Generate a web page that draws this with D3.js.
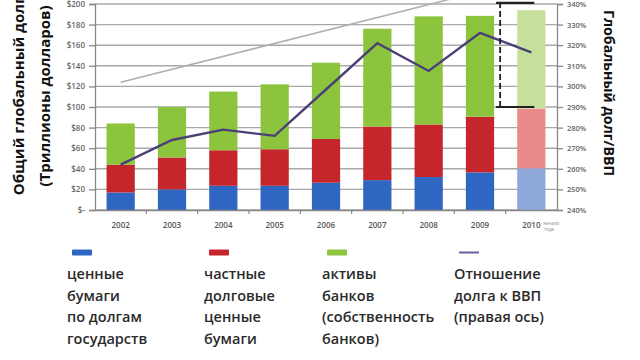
<!DOCTYPE html>
<html><head><meta charset="utf-8">
<script src="https://cdn.jsdelivr.net/npm/d3@7"></script>
<style>body{margin:0;background:#fff}svg{display:block}</style>
</head><body>
<svg id="c" width="640" height="360"></svg>
<script>
const years = ["2002","2003","2004","2005","2006","2007","2008","2009","2010"];
const govSecurities = [17, 20, 23.5, 23.5, 26.5, 29, 32, 36.5, 40.5];
const privateSecurities = [27, 31, 34.5, 35.5, 42.5, 52, 51, 54, 58];
const bankAssets = [40, 49, 57, 63, 74, 95, 105, 98, 95.5];
const debtToGdp = [262, 274, 279, 276, 298.5, 321, 307.5, 326, 316.5];
const trendYears = ["2002","2009"];
const trendValues = [302, 346];
const leftTicks = [0,20,40,60,80,100,120,140,160,180,200];
const leftTickLabels = ["$-","$20","$40","$60","$80","$100","$120","$140","$160","$180","$200"];
const rightTicks = [240,250,260,270,280,290,300,310,320,330,340];
const bracketRange = [100, 201];
const seriesNames = ["ценные бумаги по долгам государств","частные долговые ценные бумаги","активы банков (собственность банков)","Отношение долга к ВВП (правая ось)"];
const legendLines = [["ценные","бумаги","по долгам","государств"],["частные","долговые","ценные","бумаги"],["активы","банков","(собственность","банков)"],["Отношение","долга к ВВП","(правая ось)"]];

const svg = d3.select("#c");
const L = 95, R = 557, T = 4, B = 210;
const x = d3.scaleBand().domain(years).range([L, R]).paddingInner(0.45).paddingOuter(0.225);
const y = d3.scaleLinear().domain([0, 200]).range([B, T]);
const y2 = d3.scaleLinear().domain([240, 340]).range([B, T]);
const cx = d => x(d) + x.bandwidth()/2;

const colors = ["#2f66c2", "#c4262b", "#8cc43e"];
const light = ["#8ea8dc", "#e98a8c", "#c6e09c"];

// gridlines
svg.append("g").selectAll("line").data(leftTicks).join("line")
  .attr("x1", L).attr("x2", R).attr("y1", d => y(d)).attr("y2", d => y(d))
  .attr("stroke", "#a8a8a8").attr("stroke-width", 1.4);

// stacked bars
const rows = years.map((yr, i) => ({year: yr, g: govSecurities[i], p: privateSecurities[i], b: bankAssets[i]}));
const stack = d3.stack().keys(["g","p","b"])(rows);
stack.forEach((layer, k) => {
  svg.append("g").selectAll("rect").data(layer).join("rect")
    .attr("x", d => x(d.data.year)).attr("width", x.bandwidth())
    .attr("y", d => y(d[1])).attr("height", d => y(d[0]) - y(d[1]))
    .attr("fill", d => d.data.year === "2010" ? light[k] : colors[k]);
});

// axes
const la = svg.append("g").attr("transform", `translate(${L},0)`)
  .call(d3.axisLeft(y).tickValues(leftTicks).tickFormat((d,i) => leftTickLabels[i]).tickSize(6).tickPadding(4));
la.select(".domain").attr("stroke", "#888").attr("stroke-width", 1.3);
la.selectAll(".tick line").attr("stroke", "#888").attr("stroke-width", 1.3);
la.selectAll("text").attr("fill", "#666").attr("font-family", "Open Sans").attr("font-size", 8).attr("font-weight", 600);

const ra = svg.append("g").attr("transform", `translate(${R},0)`)
  .call(d3.axisRight(y2).tickValues(rightTicks).tickFormat(d => d + "%").tickSize(6).tickPadding(4));
ra.select(".domain").attr("stroke", "#888").attr("stroke-width", 1.3);
ra.selectAll(".tick line").attr("stroke", "#888").attr("stroke-width", 1.3);
ra.selectAll("text").attr("fill", "#666").attr("font-family", "Open Sans").attr("font-size", 7.5).attr("font-weight", 600);

const xa = svg.append("g").attr("transform", `translate(0,${B})`)
  .call(d3.axisBottom(x).tickSize(0).tickPadding(12));
xa.select(".domain").attr("stroke", "#888").attr("stroke-width", 1.3);
xa.selectAll("text").attr("fill", "#555").attr("font-family", "Open Sans").attr("font-size", 8).attr("font-weight", 600);
// category boundary ticks
svg.append("g").selectAll("line").data(years.slice(1)).join("line")
  .attr("x1", d => x(d) - x.step()*x.paddingInner()/2).attr("x2", d => x(d) - x.step()*x.paddingInner()/2)
  .attr("y1", B).attr("y2", B + 4).attr("stroke", "#888").attr("stroke-width", 1.2);

// "начало года" note
const note = svg.append("text").attr("font-family", "Open Sans").attr("font-size", 4.5).attr("fill", "#888");
note.append("tspan").attr("x", cx("2010") + 12).attr("y", 225).text("начало");
note.append("tspan").attr("x", cx("2010") + 13).attr("y", 231).text("года");

// trend line
svg.append("line")
  .attr("x1", cx(trendYears[0])).attr("y1", y2(trendValues[0]))
  .attr("x2", cx(trendYears[1])).attr("y2", y2(trendValues[1]))
  .attr("stroke", "#adadb8").attr("stroke-width", 1.5);

// debt/GDP line
svg.append("path").datum(debtToGdp)
  .attr("d", d3.line().x((d,i) => cx(years[i])).y(d => y2(d)))
  .attr("fill", "none").attr("stroke", "#4a3f78").attr("stroke-width", 2.4);

// bracket
const bx = cx("2009") + x.bandwidth()/2 + 6;
const bxl = bx - 4, bxr = cx("2010") + 3;
svg.append("line").attr("x1", bx).attr("x2", bx).attr("y1", y(bracketRange[0])).attr("y2", y(bracketRange[1]))
  .attr("stroke", "#222").attr("stroke-width", 1.8).attr("stroke-dasharray", "6,3");
bracketRange.forEach(v => {
  svg.append("line").attr("x1", bxl).attr("x2", bxr).attr("y1", y(v)).attr("y2", y(v))
    .attr("stroke", "#222").attr("stroke-width", 2.2);
});

// axis titles
const lt = svg.append("text").attr("transform", "translate(0,96) rotate(-90)")
  .attr("text-anchor", "middle").attr("font-family", "Open Sans").attr("font-weight", 700)
  .attr("font-size", 15).attr("fill", "#111");
lt.append("tspan").attr("x", 0).attr("y", 24).text("Общий глобальный долг");
lt.append("tspan").attr("x", 0).attr("y", 50).text("(Триллионы долларов)");

svg.append("text").attr("transform", "translate(604,93) rotate(90)")
  .attr("text-anchor", "middle").attr("font-family", "Open Sans").attr("font-weight", 700)
  .attr("font-size", 14.2).attr("fill", "#111").text("Глобальный долг/ВВП");

// legend
const legX = [67, 204, 322, 454];
const legCol = [colors[0], colors[1], colors[2], "#6b5fa3"];
legX.forEach((lx, i) => {
  const swx = lx + 5;
  if (i < 3) {
    svg.append("rect").attr("x", swx).attr("y", 249.5).attr("width", 20).attr("height", 6)
      .attr("fill", legCol[i]).attr("rx", 1);
  } else {
    svg.append("line").attr("x1", swx).attr("x2", swx + 20).attr("y1", 252.5).attr("y2", 252.5)
      .attr("stroke", legCol[i]).attr("stroke-width", 2);
  }
  const t = svg.append("text").attr("font-family", "Open Sans").attr("font-weight", 600)
    .attr("font-size", 14.5).attr("fill", "#2a2a2a");
  legendLines[i].forEach((s, j) => t.append("tspan").attr("x", lx).attr("y", 279 + j * 21.7).text(s));
});
</script>
</body></html>
